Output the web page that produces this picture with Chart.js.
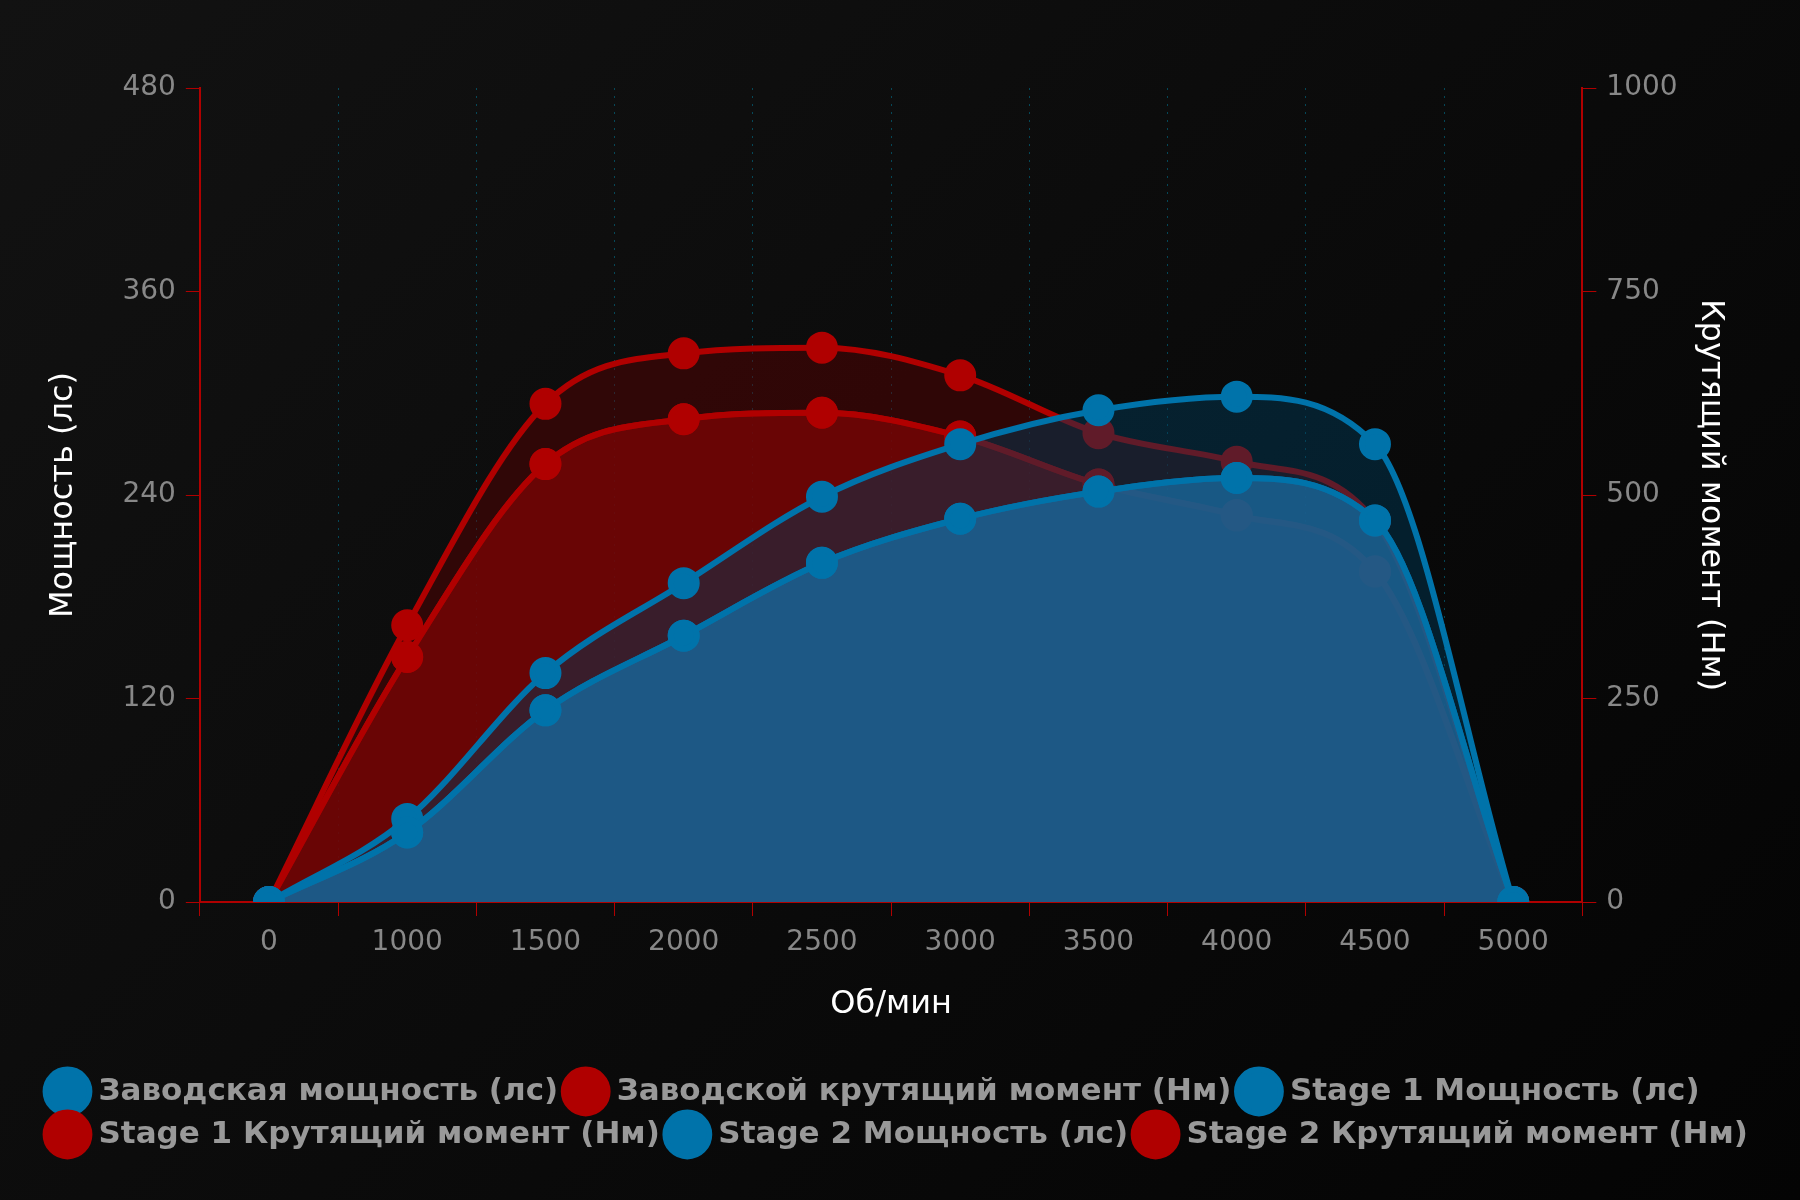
<!DOCTYPE html>
<html><head><meta charset="utf-8">
<script src="https://cdn.jsdelivr.net/npm/chart.js@4"></script>
<style>
html,body{margin:0;padding:0;}
body{width:1800px;height:1200px;background:linear-gradient(135deg,#121212,#040404);}
#w{position:absolute;left:0;top:0;width:1800px;height:1200px;}
</style></head><body>
<div id="w"><canvas id="c"></canvas></div>
<script>
const rpm = ['0','1000','1500','2000','2500','3000','3500','4000','4500','5000'];
const factoryHp = [0,41,113,157,200,226,242,250,225,0];
const factoryNm = [0,301,538,593,601,572,513,475,406,0];
const stage1Hp = [0,41,113,157,200,226,242,250,225,0];
const stage1Nm = [0,301,538,593,601,572,513,475,406,0];
const stage2Hp = [0,49,135,188,239,270,290,298,270,0];
const stage2Nm = [0,340,612,674,681,647,576,541,468,0];
const leftTicks = [0,120,240,360,480];
const rightTicks = [0,250,500,750,1000];

const blue='#0073aa', red='#b00000';
function ds(label,data,axis,color,fill,order){
  return {label,data,yAxisID:axis,borderColor:color,backgroundColor:fill,pointBackgroundColor:color,pointBorderColor:color,
    borderWidth:6,pointRadius:13,fill:'origin',tension:0.4,cubicInterpolationMode:'monotone',order};
}
new Chart(document.getElementById('c'),{
  type:'line',
  data:{labels:rpm,datasets:[
    ds('Заводская мощность (лс)',factoryHp,'y',blue,'rgba(25,100,150,0.6)',1),
    ds('Заводской крутящий момент (Нм)',factoryNm,'y1',red,'rgba(120,5,5,0.55)',4),
    ds('Stage 1 Мощность (лс)',stage1Hp,'y',blue,'rgba(25,100,150,0.6)',2),
    ds('Stage 1 Крутящий момент (Нм)',stage1Nm,'y1',red,'rgba(120,5,5,0.55)',5),
    ds('Stage 2 Мощность (лс)',stage2Hp,'y',blue,'rgba(0,60,90,0.45)',3),
    ds('Stage 2 Крутящий момент (Нм)',stage2Nm,'y1',red,'rgba(90,0,0,0.45)',6),
  ]},
  options:{
    responsive:true,maintainAspectRatio:false,animation:false,
    layout:{padding:{left:40,right:40,top:88,bottom:40}},
    plugins:{legend:{position:'bottom',align:'start',labels:{color:'#999',font:{size:31,weight:'bold',family:'DejaVu Sans'},usePointStyle:true,pointStyle:'circle',boxWidth:34,boxHeight:34,padding:12,
      sort:(a,b)=>a.datasetIndex-b.datasetIndex}},tooltip:{enabled:false}},
    scales:{
      x:{offset:true,grid:{display:true,offset:true,color:'rgba(0,120,150,0.55)',tickColor:red,tickLength:14,drawOnChartArea:true},
        border:{color:red,width:2,dash:[2,6]},
        ticks:{color:'#888',font:{size:28,family:'DejaVu Sans'},padding:10},
        title:{display:true,text:'Об/мин',color:'#fff',font:{size:32,family:'DejaVu Sans'},padding:{top:16,bottom:40}}},
      y:{position:'left',min:0,max:480,afterBuildTicks:a=>{a.ticks=leftTicks.map(v=>({value:v}));},
        grid:{drawOnChartArea:false,color:red,tickLength:14},border:{color:red,width:2},
        ticks:{color:'#888',font:{size:28,family:'DejaVu Sans'},padding:10},
        title:{display:true,text:'Мощность (лс)',color:'#fff',font:{size:32,family:'DejaVu Sans'},padding:{bottom:30}}},
      y1:{position:'right',min:0,max:1000,afterBuildTicks:a=>{a.ticks=rightTicks.map(v=>({value:v}));},
        grid:{drawOnChartArea:false,color:red,tickLength:14},border:{color:red,width:2},
        ticks:{color:'#888',font:{size:28,family:'DejaVu Sans'},padding:10,callback:v=>String(v)},
        title:{display:true,text:'Крутящий момент (Нм)',color:'#fff',font:{size:32,family:'DejaVu Sans'},padding:{top:30}}}
    }
  }
});
</script></body></html>
